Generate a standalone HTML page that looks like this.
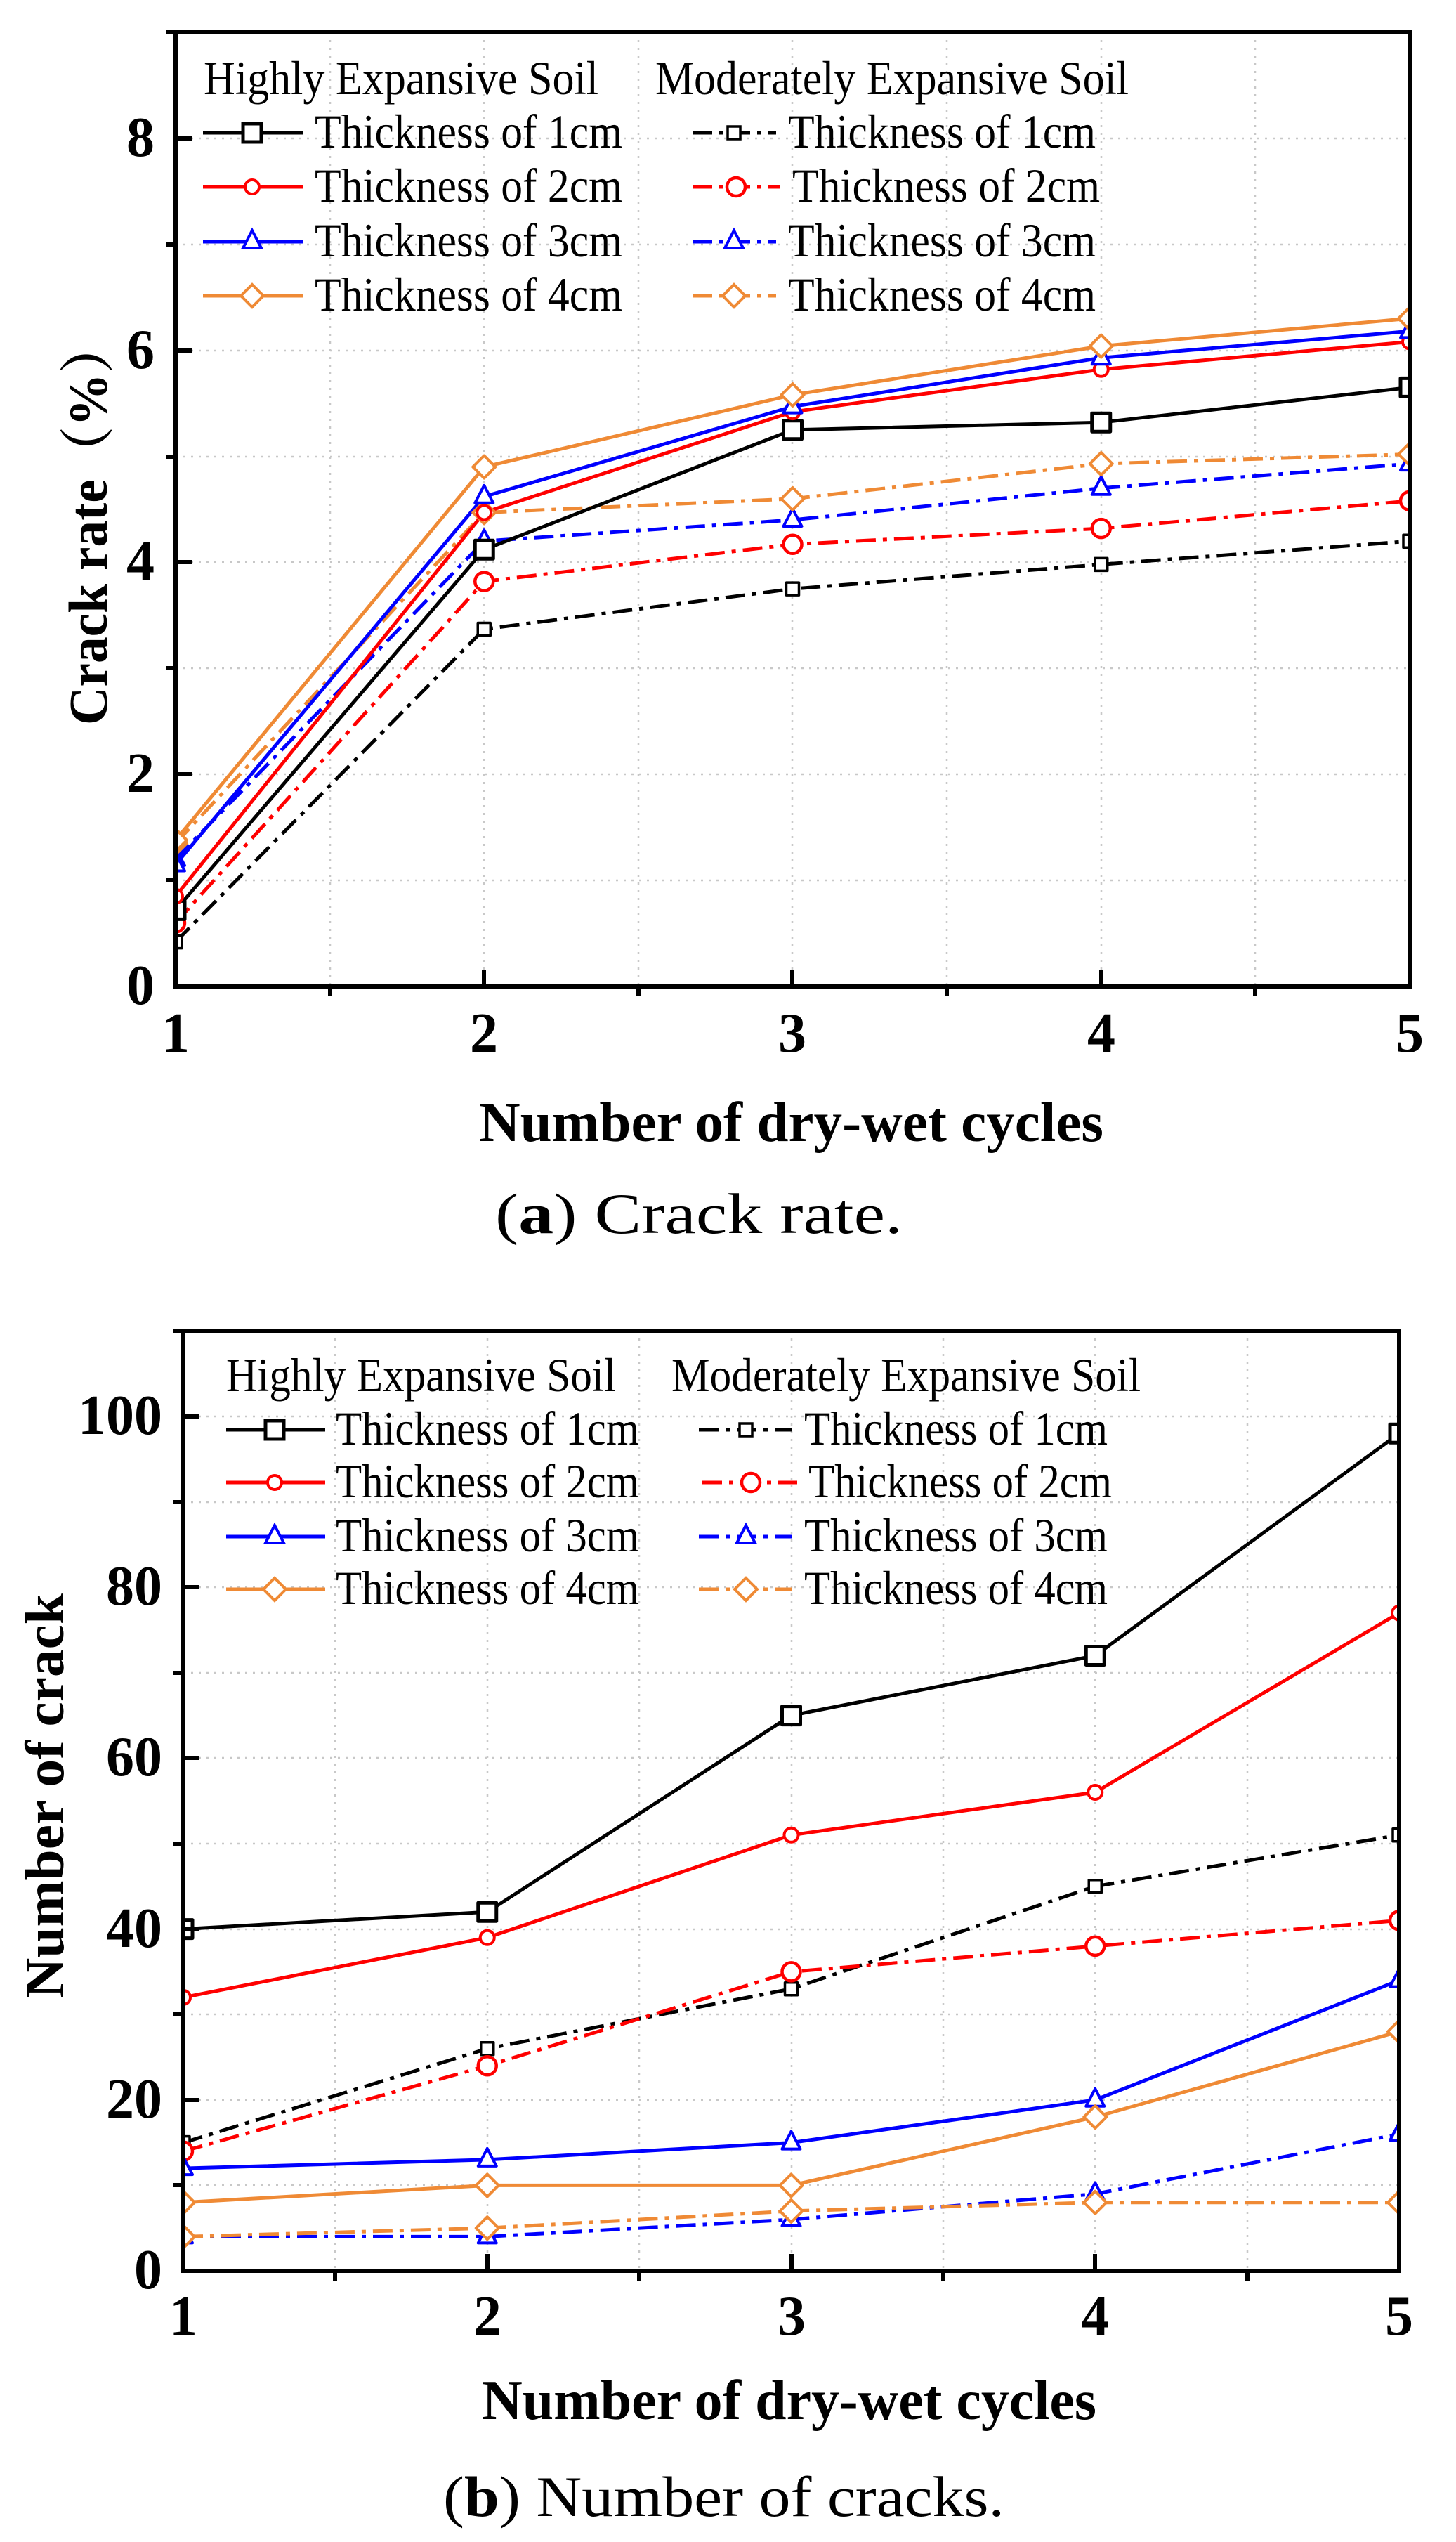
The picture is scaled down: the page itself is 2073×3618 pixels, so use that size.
<!DOCTYPE html>
<html><head><meta charset="utf-8"><style>
html,body{margin:0;padding:0;background:#fff;}
svg{display:block;}
svg text{font-family:"Liberation Serif","Noto Serif CJK SC",serif;}
</style></head><body>
<svg width="2073" height="3618" viewBox="0 0 2073 3618" xmlns="http://www.w3.org/2000/svg" font-family="'Liberation Serif','Noto Serif CJK SC',serif">
<defs>
<g id="sqL"><rect x="-13" y="-13" width="26" height="26" fill="#fff" stroke="#000" stroke-width="5"/></g>
<g id="sqS"><rect x="-9" y="-9" width="18" height="18" fill="#fff" stroke="#000" stroke-width="3.5"/></g>
<g id="cS"><circle r="10" fill="#fff" stroke="#f00" stroke-width="4"/></g>
<g id="cL"><circle r="13" fill="#fff" stroke="#f00" stroke-width="4.5"/></g>
<g id="tri"><polygon points="0,-16 13,9 -13,9" fill="#fff" stroke="#00f" stroke-width="4"/></g>
<g id="dia"><polygon points="0,-16 16,0 0,16 -16,0" fill="#fff" stroke="#ef8a35" stroke-width="4"/></g>
<clipPath id="ca"><rect x="250" y="46" width="1757" height="1358"/></clipPath>
<clipPath id="cb"><rect x="261" y="1894" width="1731" height="1338"/></clipPath>
</defs>

<!-- ================= PANEL A ================= -->
<g stroke="#c8c8c8" stroke-width="2.5" stroke-dasharray="3 8">
<line x1="250" y1="1253" x2="2007" y2="1253"/><line x1="250" y1="1102" x2="2007" y2="1102"/>
<line x1="250" y1="951" x2="2007" y2="951"/><line x1="250" y1="800" x2="2007" y2="800"/>
<line x1="250" y1="650" x2="2007" y2="650"/><line x1="250" y1="499" x2="2007" y2="499"/>
<line x1="250" y1="348" x2="2007" y2="348"/><line x1="250" y1="197" x2="2007" y2="197"/>
<line x1="470" y1="46" x2="470" y2="1404"/><line x1="689" y1="46" x2="689" y2="1404"/>
<line x1="909" y1="46" x2="909" y2="1404"/><line x1="1128" y1="46" x2="1128" y2="1404"/>
<line x1="1348" y1="46" x2="1348" y2="1404"/><line x1="1568" y1="46" x2="1568" y2="1404"/>
<line x1="1787" y1="46" x2="1787" y2="1404"/>
</g>
<g clip-path="url(#ca)" fill="none" stroke-width="5" stroke-linejoin="round">
<polyline stroke="#000" stroke-dasharray="28 10 6 10" points="250,1340.6 689.25,895.5 1128.5,838.1 1567.75,803.4 2007,770.2"/>
<polyline stroke="#f00" stroke-dasharray="28 10 6 10" points="250,1313.5 689.25,827.6 1128.5,774.7 1567.75,752.1 2007,712.9"/>
<polyline stroke="#00f" stroke-dasharray="28 10 6 10" points="250,1222.9 689.25,770.2 1128.5,740 1567.75,694.8 2007,660.1"/>
<polyline stroke="#ef8a35" stroke-dasharray="28 10 6 10" points="250,1200.3 689.25,729.5 1128.5,709.9 1567.75,660.1 2007,646.5"/>
<polyline stroke="#000" points="250,1295.4 689.25,782.3 1128.5,611.8 1567.75,601.2 2007,551.4"/>
<polyline stroke="#f00" points="250,1275.7 689.25,729.5 1128.5,586.1 1567.75,525.8 2007,486.5"/>
<polyline stroke="#00f" points="250,1230.5 689.25,706.8 1128.5,578.6 1567.75,509.2 2007,471.4"/>
<polyline stroke="#ef8a35" points="250,1195.8 689.25,664.6 1128.5,562 1567.75,492.6 2007,453.3"/>
<use href="#sqS" x="250" y="1340.6"/><use href="#sqS" x="689.25" y="895.5"/><use href="#sqS" x="1128.5" y="838.1"/><use href="#sqS" x="1567.75" y="803.4"/><use href="#sqS" x="2007" y="770.2"/>
<use href="#cL" x="250" y="1313.5"/><use href="#cL" x="689.25" y="827.6"/><use href="#cL" x="1128.5" y="774.7"/><use href="#cL" x="1567.75" y="752.1"/><use href="#cL" x="2007" y="712.9"/>
<use href="#tri" x="250" y="1222.9"/><use href="#tri" x="689.25" y="770.2"/><use href="#tri" x="1128.5" y="740"/><use href="#tri" x="1567.75" y="694.8"/><use href="#tri" x="2007" y="660.1"/>
<use href="#dia" x="250" y="1200.3"/><use href="#dia" x="689.25" y="729.5"/><use href="#dia" x="1128.5" y="709.9"/><use href="#dia" x="1567.75" y="660.1"/><use href="#dia" x="2007" y="646.5"/>
<use href="#sqL" x="250" y="1295.4"/><use href="#sqL" x="689.25" y="782.3"/><use href="#sqL" x="1128.5" y="611.8"/><use href="#sqL" x="1567.75" y="601.2"/><use href="#sqL" x="2007" y="551.4"/>
<use href="#cS" x="250" y="1275.7"/><use href="#cS" x="689.25" y="729.5"/><use href="#cS" x="1128.5" y="586.1"/><use href="#cS" x="1567.75" y="525.8"/><use href="#cS" x="2007" y="486.5"/>
<use href="#tri" x="250" y="1230.5"/><use href="#tri" x="689.25" y="706.8"/><use href="#tri" x="1128.5" y="578.6"/><use href="#tri" x="1567.75" y="509.2"/><use href="#tri" x="2007" y="471.4"/>
<use href="#dia" x="250" y="1195.8"/><use href="#dia" x="689.25" y="664.6"/><use href="#dia" x="1128.5" y="562"/><use href="#dia" x="1567.75" y="492.6"/><use href="#dia" x="2007" y="453.3"/>
</g>
<!-- legend a -->
<g font-size="68" fill="#000">
<text x="290" y="134" textLength="562" lengthAdjust="spacingAndGlyphs">Highly Expansive Soil</text>
<text x="933" y="134" textLength="674" lengthAdjust="spacingAndGlyphs">Moderately Expansive Soil</text>
<text x="448" y="210" textLength="438" lengthAdjust="spacingAndGlyphs">Thickness of 1cm</text>
<text x="448" y="287" textLength="438" lengthAdjust="spacingAndGlyphs">Thickness of 2cm</text>
<text x="448" y="365" textLength="438" lengthAdjust="spacingAndGlyphs">Thickness of 3cm</text>
<text x="448" y="442" textLength="438" lengthAdjust="spacingAndGlyphs">Thickness of 4cm</text>
<text x="1122" y="210" textLength="438" lengthAdjust="spacingAndGlyphs">Thickness of 1cm</text>
<text x="1128" y="287" textLength="438" lengthAdjust="spacingAndGlyphs">Thickness of 2cm</text>
<text x="1122" y="365" textLength="438" lengthAdjust="spacingAndGlyphs">Thickness of 3cm</text>
<text x="1122" y="442" textLength="438" lengthAdjust="spacingAndGlyphs">Thickness of 4cm</text>
</g>
<g stroke-width="5" fill="none">
<line x1="289" y1="189" x2="432" y2="189" stroke="#000"/>
<line x1="289" y1="266" x2="432" y2="266" stroke="#f00"/>
<line x1="289" y1="344" x2="432" y2="344" stroke="#00f"/>
<line x1="289" y1="421" x2="432" y2="421" stroke="#ef8a35"/>
<line x1="986" y1="189" x2="1105" y2="189" stroke="#000" stroke-dasharray="28 10 6 10"/>
<line x1="986" y1="266" x2="1110" y2="266" stroke="#f00" stroke-dasharray="28 10 6 10"/>
<line x1="986" y1="344" x2="1105" y2="344" stroke="#00f" stroke-dasharray="28 10 6 10"/>
<line x1="986" y1="421" x2="1105" y2="421" stroke="#ef8a35" stroke-dasharray="28 10 6 10"/>
</g>
<use href="#sqL" x="359" y="189"/><use href="#cS" x="359" y="266"/><use href="#tri" x="359" y="344"/><use href="#dia" x="359" y="421"/>
<use href="#sqS" x="1045" y="189"/><use href="#cL" x="1048" y="266"/><use href="#tri" x="1045" y="344"/><use href="#dia" x="1045" y="421"/>
<!-- axes a -->
<rect x="250" y="46" width="1757" height="1358" fill="none" stroke="#000" stroke-width="6"/>
<g stroke="#000" stroke-width="6">
<line x1="250" y1="1102" x2="273" y2="1102"/><line x1="250" y1="800" x2="273" y2="800"/><line x1="250" y1="499" x2="273" y2="499"/><line x1="250" y1="197" x2="273" y2="197"/>
<line x1="236" y1="1253" x2="250" y2="1253"/><line x1="236" y1="951" x2="250" y2="951"/><line x1="236" y1="650" x2="250" y2="650"/><line x1="236" y1="348" x2="250" y2="348"/><line x1="236" y1="46" x2="250" y2="46"/>
<line x1="689" y1="1404" x2="689" y2="1380"/><line x1="1128" y1="1404" x2="1128" y2="1380"/><line x1="1568" y1="1404" x2="1568" y2="1380"/>
<line x1="470" y1="1404" x2="470" y2="1418"/><line x1="909" y1="1404" x2="909" y2="1418"/><line x1="1348" y1="1404" x2="1348" y2="1418"/><line x1="1787" y1="1404" x2="1787" y2="1418"/>
</g>
<g font-size="80" font-weight="bold" text-anchor="end">
<text x="220" y="1429">0</text><text x="220" y="1127">2</text><text x="220" y="825">4</text><text x="220" y="524">6</text><text x="220" y="222">8</text>
</g>
<g font-size="80" font-weight="bold" text-anchor="middle">
<text x="250" y="1497">1</text><text x="689" y="1497">2</text><text x="1128" y="1497">3</text><text x="1568" y="1497">4</text><text x="2007" y="1497">5</text>
</g>
<text x="682" y="1624" font-size="80" font-weight="bold" textLength="889" lengthAdjust="spacingAndGlyphs">Number of dry-wet cycles</text>
<text transform="translate(152,1032) rotate(-90)" font-size="78" font-weight="bold" textLength="576" lengthAdjust="spacingAndGlyphs">Crack rate（%）</text>
<text x="705" y="1755" font-size="82" textLength="580" lengthAdjust="spacingAndGlyphs">(<tspan font-weight="bold">a</tspan>) Crack rate.</text>

<!-- ================= PANEL B ================= -->
<g stroke="#c8c8c8" stroke-width="2.5" stroke-dasharray="3 8">
<line x1="261" y1="3110" x2="1992" y2="3110"/><line x1="261" y1="2989" x2="1992" y2="2989"/>
<line x1="261" y1="2867" x2="1992" y2="2867"/><line x1="261" y1="2746" x2="1992" y2="2746"/>
<line x1="261" y1="2624" x2="1992" y2="2624"/><line x1="261" y1="2502" x2="1992" y2="2502"/>
<line x1="261" y1="2381" x2="1992" y2="2381"/><line x1="261" y1="2259" x2="1992" y2="2259"/>
<line x1="261" y1="2138" x2="1992" y2="2138"/><line x1="261" y1="2016" x2="1992" y2="2016"/>
<line x1="477" y1="1894" x2="477" y2="3232"/><line x1="694" y1="1894" x2="694" y2="3232"/>
<line x1="910" y1="1894" x2="910" y2="3232"/><line x1="1127" y1="1894" x2="1127" y2="3232"/>
<line x1="1343" y1="1894" x2="1343" y2="3232"/><line x1="1559" y1="1894" x2="1559" y2="3232"/>
<line x1="1776" y1="1894" x2="1776" y2="3232"/>
</g>
<g clip-path="url(#cb)" fill="none" stroke-width="5" stroke-linejoin="round">
<polyline stroke="#000" stroke-dasharray="28 10 6 10" points="261,3049.6 693.75,2915.8 1126.5,2830.7 1559.25,2684.8 1992,2611.8"/>
<polyline stroke="#f00" stroke-dasharray="28 10 6 10" points="261,3061.8 693.75,2940.2 1126.5,2806.4 1559.25,2769.9 1992,2733.4"/>
<polyline stroke="#00f" stroke-dasharray="28 10 6 10" points="261,3183.4 693.75,3183.4 1126.5,3159 1559.25,3122.6 1992,3037.4"/>
<polyline stroke="#ef8a35" stroke-dasharray="28 10 6 10" points="261,3183.4 693.75,3171.2 1126.5,3146.9 1559.25,3134.7 1992,3134.7"/>
<polyline stroke="#000" points="261,2745.6 693.75,2721.3 1126.5,2441.6 1559.25,2356.5 1992,2040.3"/>
<polyline stroke="#f00" points="261,2842.9 693.75,2757.8 1126.5,2611.8 1559.25,2551 1992,2295.7"/>
<polyline stroke="#00f" points="261,3086.1 693.75,3073.9 1126.5,3049.6 1559.25,2988.8 1992,2818.6"/>
<polyline stroke="#ef8a35" points="261,3134.7 693.75,3110.4 1126.5,3110.4 1559.25,3013.1 1992,2891.5"/>
<use href="#sqS" x="261" y="3049.6"/><use href="#sqS" x="693.75" y="2915.8"/><use href="#sqS" x="1126.5" y="2830.7"/><use href="#sqS" x="1559.25" y="2684.8"/><use href="#sqS" x="1992" y="2611.8"/>
<use href="#cL" x="261" y="3061.8"/><use href="#cL" x="693.75" y="2940.2"/><use href="#cL" x="1126.5" y="2806.4"/><use href="#cL" x="1559.25" y="2769.9"/><use href="#cL" x="1992" y="2733.4"/>
<use href="#tri" x="261" y="3183.4"/><use href="#tri" x="693.75" y="3183.4"/><use href="#tri" x="1126.5" y="3159"/><use href="#tri" x="1559.25" y="3122.6"/><use href="#tri" x="1992" y="3037.4"/>
<use href="#dia" x="261" y="3183.4"/><use href="#dia" x="693.75" y="3171.2"/><use href="#dia" x="1126.5" y="3146.9"/><use href="#dia" x="1559.25" y="3134.7"/><use href="#dia" x="1992" y="3134.7"/>
<use href="#sqL" x="261" y="2745.6"/><use href="#sqL" x="693.75" y="2721.3"/><use href="#sqL" x="1126.5" y="2441.6"/><use href="#sqL" x="1559.25" y="2356.5"/><use href="#sqL" x="1992" y="2040.3"/>
<use href="#cS" x="261" y="2842.9"/><use href="#cS" x="693.75" y="2757.8"/><use href="#cS" x="1126.5" y="2611.8"/><use href="#cS" x="1559.25" y="2551"/><use href="#cS" x="1992" y="2295.7"/>
<use href="#tri" x="261" y="3086.1"/><use href="#tri" x="693.75" y="3073.9"/><use href="#tri" x="1126.5" y="3049.6"/><use href="#tri" x="1559.25" y="2988.8"/><use href="#tri" x="1992" y="2818.6"/>
<use href="#dia" x="261" y="3134.7"/><use href="#dia" x="693.75" y="3110.4"/><use href="#dia" x="1126.5" y="3110.4"/><use href="#dia" x="1559.25" y="3013.1"/><use href="#dia" x="1992" y="2891.5"/>
</g>
<!-- legend b -->
<g font-size="68" fill="#000">
<text x="322" y="1980" textLength="555" lengthAdjust="spacingAndGlyphs">Highly Expansive Soil</text>
<text x="956" y="1980" textLength="668" lengthAdjust="spacingAndGlyphs">Moderately Expansive Soil</text>
<text x="478" y="2056" textLength="432" lengthAdjust="spacingAndGlyphs">Thickness of 1cm</text>
<text x="478" y="2131" textLength="432" lengthAdjust="spacingAndGlyphs">Thickness of 2cm</text>
<text x="478" y="2208" textLength="432" lengthAdjust="spacingAndGlyphs">Thickness of 3cm</text>
<text x="478" y="2283" textLength="432" lengthAdjust="spacingAndGlyphs">Thickness of 4cm</text>
<text x="1145" y="2056" textLength="432" lengthAdjust="spacingAndGlyphs">Thickness of 1cm</text>
<text x="1151" y="2131" textLength="432" lengthAdjust="spacingAndGlyphs">Thickness of 2cm</text>
<text x="1145" y="2208" textLength="432" lengthAdjust="spacingAndGlyphs">Thickness of 3cm</text>
<text x="1145" y="2283" textLength="432" lengthAdjust="spacingAndGlyphs">Thickness of 4cm</text>
</g>
<g stroke-width="5" fill="none">
<line x1="322" y1="2035" x2="463" y2="2035" stroke="#000"/>
<line x1="322" y1="2110" x2="463" y2="2110" stroke="#f00"/>
<line x1="322" y1="2187" x2="463" y2="2187" stroke="#00f"/>
<line x1="322" y1="2262" x2="463" y2="2262" stroke="#ef8a35"/>
<line x1="995" y1="2035" x2="1128" y2="2035" stroke="#000" stroke-dasharray="28 10 6 10"/>
<line x1="1000" y1="2110" x2="1135" y2="2110" stroke="#f00" stroke-dasharray="28 10 6 10"/>
<line x1="995" y1="2187" x2="1128" y2="2187" stroke="#00f" stroke-dasharray="28 10 6 10"/>
<line x1="995" y1="2262" x2="1128" y2="2262" stroke="#ef8a35" stroke-dasharray="28 10 6 10"/>
</g>
<use href="#sqL" x="391" y="2035"/><use href="#cS" x="391" y="2110"/><use href="#tri" x="391" y="2187"/><use href="#dia" x="391" y="2262"/>
<use href="#sqS" x="1062" y="2035"/><use href="#cL" x="1069" y="2110"/><use href="#tri" x="1062" y="2187"/><use href="#dia" x="1062" y="2262"/>
<!-- axes b -->
<rect x="261" y="1894" width="1731" height="1338" fill="none" stroke="#000" stroke-width="6"/>
<g stroke="#000" stroke-width="6">
<line x1="261" y1="2989" x2="284" y2="2989"/><line x1="261" y1="2746" x2="284" y2="2746"/><line x1="261" y1="2502" x2="284" y2="2502"/><line x1="261" y1="2259" x2="284" y2="2259"/><line x1="261" y1="2016" x2="284" y2="2016"/>
<line x1="247" y1="3110" x2="261" y2="3110"/><line x1="247" y1="2867" x2="261" y2="2867"/><line x1="247" y1="2624" x2="261" y2="2624"/><line x1="247" y1="2381" x2="261" y2="2381"/><line x1="247" y1="2138" x2="261" y2="2138"/><line x1="247" y1="1894" x2="261" y2="1894"/>
<line x1="694" y1="3232" x2="694" y2="3208"/><line x1="1127" y1="3232" x2="1127" y2="3208"/><line x1="1559" y1="3232" x2="1559" y2="3208"/>
<line x1="477" y1="3232" x2="477" y2="3246"/><line x1="910" y1="3232" x2="910" y2="3246"/><line x1="1343" y1="3232" x2="1343" y2="3246"/><line x1="1776" y1="3232" x2="1776" y2="3246"/>
</g>
<g font-size="80" font-weight="bold" text-anchor="end">
<text x="231" y="3257">0</text><text x="231" y="3014">20</text><text x="231" y="2771">40</text><text x="231" y="2527">60</text><text x="231" y="2284">80</text><text x="231" y="2041">100</text>
</g>
<g font-size="80" font-weight="bold" text-anchor="middle">
<text x="261" y="3323">1</text><text x="694" y="3323">2</text><text x="1127" y="3323">3</text><text x="1559" y="3323">4</text><text x="1992" y="3323">5</text>
</g>
<text x="686" y="3443" font-size="80" font-weight="bold" textLength="875" lengthAdjust="spacingAndGlyphs">Number of dry-wet cycles</text>
<text transform="translate(90,2844) rotate(-90)" font-size="78" font-weight="bold" textLength="576" lengthAdjust="spacingAndGlyphs">Number of crack</text>
<text x="631" y="3581" font-size="82" textLength="799" lengthAdjust="spacingAndGlyphs">(<tspan font-weight="bold">b</tspan>) Number of cracks.</text>
</svg>
</body></html>
